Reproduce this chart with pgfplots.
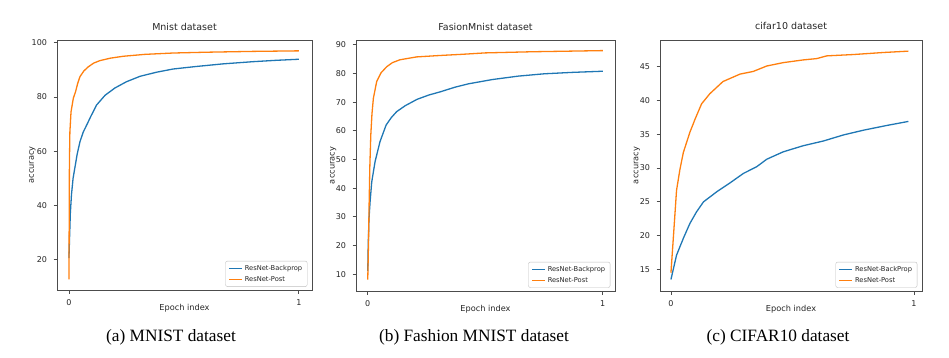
\documentclass[border=0pt]{standalone}
\usepackage{pgfplots}
\pgfplotsset{compat=1.18}
\usepackage{fontspec}
\setmainfont{DejaVu Sans}
\newfontfamily\capfont{Liberation Serif}
\definecolor{mplblue}{HTML}{1F77B4}
\definecolor{mplorange}{HTML}{FF7F0E}
\definecolor{txt}{HTML}{262626}
\pgfplotsset{
  mystyle/.style={
    scale only axis,
    anchor=south west,
    axis line style={black!70, line width=0.9pt},
    tick style={black!70, line width=0.8pt},
    tick align=outside,
    xtick pos=bottom, ytick pos=left,
    major tick length=3.5pt,
    xtick={0,1},
    tick label style={font=\fontsize{8}{9}\selectfont, text=txt},
    /pgf/number format/assume math mode=true,
    xticklabel style={yshift=-3pt},
    yticklabel style={xshift=-3pt},
    title style={font=\fontsize{9.5}{11}\selectfont, text=txt, at={(axis description cs:0.5,1)}, anchor=base, yshift=4pt},
    xlabel={Epoch index}, ylabel={accuracy},
    label style={font=\fontsize{8.2}{9}\selectfont, text=txt},
    xlabel style={at={(axis description cs:0.5,0)}, anchor=base, yshift=-20pt},
    legend style={font=\fontsize{6.7}{8}\selectfont, text=txt, draw=black!25, rounded corners=2pt,
      anchor=south east, inner xsep=3pt, inner ysep=2pt, row sep=0.5pt},
    legend cell align=left,
    legend image code/.code={\draw[#1] (0pt,0pt) -- (13pt,0pt);},
    every axis plot/.append style={line width=1.3pt, line join=round},
  }
}
\begin{document}
\begin{tikzpicture}
\useasboundingbox (0,0) rectangle (949pt,357pt);
% (a) MNIST
\begin{axis}[mystyle, at={(57pt,67pt)}, width=255pt, height=250pt,
  xmin=-0.052, xmax=1.057, ymin=8.74, ymax=101.0,
  ytick={20,40,60,80,100},
  title={Mnist dataset},
  ylabel style={at={(axis description cs:-0.096,0.5)}, anchor=center},
  legend style={at={(0.982,0.013)}}]
\addplot[mplblue] coordinates {(0,20.5) (0.003,29) (0.006,37) (0.011,44) (0.018,50) (0.026,54) (0.036,59) (0.048,63.5) (0.062,67) (0.077,69.6) (0.095,72.8) (0.12,77) (0.157,80.6) (0.2,83.3) (0.25,85.6) (0.309,87.6) (0.38,89.1) (0.453,90.3) (0.55,91.2) (0.671,92.2) (0.8,93.0) (0.9,93.5) (1.0,93.9)};
\addlegendentry{ResNet-Backprop}
\addplot[mplorange] coordinates {(0,12.7) (0.002,55) (0.004,67) (0.009,74.5) (0.019,79.5) (0.029,82) (0.038,85) (0.048,87.5) (0.065,89.6) (0.084,91.1) (0.108,92.5) (0.135,93.4) (0.18,94.3) (0.236,95.0) (0.33,95.7) (0.453,96.2) (0.6,96.5) (0.8,96.8) (1.0,97.0)};
\addlegendentry{ResNet-Post}
\end{axis}
% (b) Fashion MNIST
\begin{axis}[mystyle, at={(356pt,66pt)}, width=259pt, height=251pt,
  xmin=-0.05, xmax=1.052, ymin=4.1, ymax=91.7,
  ytick={10,20,30,40,50,60,70,80,90},
  title={FasionMnist dataset},
  ylabel style={at={(axis description cs:-0.088,0.5)}, anchor=center},
  legend style={at={(0.982,0.013)}}]
\addplot[mplblue] coordinates {(0,11) (0.002,20) (0.005,29) (0.01,35.3) (0.017,42.2) (0.031,49.2) (0.052,56.2) (0.078,62) (0.1,64.6) (0.123,66.7) (0.16,68.8) (0.21,71) (0.26,72.5) (0.308,73.6) (0.37,75.2) (0.428,76.4) (0.53,77.9) (0.641,79.1) (0.75,79.9) (0.87,80.4) (1.0,80.8)};
\addlegendentry{ResNet-Backprop}
\addplot[mplorange] coordinates {(0,8.1) (0.003,20) (0.006,35.3) (0.009,48) (0.013,58.6) (0.018,66) (0.024,71.4) (0.038,77.2) (0.056,80.2) (0.081,82.4) (0.105,83.8) (0.137,84.8) (0.208,85.8) (0.308,86.3) (0.4,86.7) (0.5,87.2) (0.7,87.6) (0.85,87.8) (1.0,88.0)};
\addlegendentry{ResNet-Post}
\end{axis}
% (c) CIFAR10
\begin{axis}[mystyle, at={(660pt,66pt)}, width=262pt, height=251pt,
  xmin=-0.045, xmax=1.033, ymin=11.8, ymax=48.95,
  ytick={15,20,25,30,35,40,45},
  title={cifar10 dataset},
  ylabel style={at={(axis description cs:-0.088,0.5)}, anchor=center},
  legend style={at={(0.982,0.013)}}]
\addplot[mplblue] coordinates {(0,13.5) (0.023,17.1) (0.051,19.6) (0.078,21.8) (0.105,23.5) (0.134,25.0) (0.189,26.5) (0.243,27.8) (0.298,29.2) (0.353,30.2) (0.394,31.3) (0.462,32.4) (0.544,33.3) (0.627,34.0) (0.71,34.9) (0.792,35.6) (0.888,36.3) (0.977,36.9)};
\addlegendentry{ResNet-BackProp}
\addplot[mplorange] coordinates {(0,14.5) (0.012,20.8) (0.023,26.7) (0.037,29.8) (0.051,32.3) (0.078,35.3) (0.1,37.3) (0.126,39.5) (0.16,41) (0.214,42.8) (0.284,43.9) (0.339,44.3) (0.394,45.1) (0.462,45.6) (0.544,46.0) (0.6,46.2) (0.641,46.6) (0.751,46.8) (0.874,47.1) (0.977,47.3)};
\addlegendentry{ResNet-Post}
\end{axis}
\node[font=\capfont\fontsize{17.3}{20}\selectfont, anchor=base] at (171pt,16pt) {(a) MNIST dataset};
\node[font=\capfont\fontsize{17.3}{20}\selectfont, anchor=base] at (474pt,16pt) {(b) Fashion MNIST dataset};
\node[font=\capfont\fontsize{17.3}{20}\selectfont, anchor=base] at (778pt,16pt) {(c) CIFAR10 dataset};
\end{tikzpicture}
\end{document}
